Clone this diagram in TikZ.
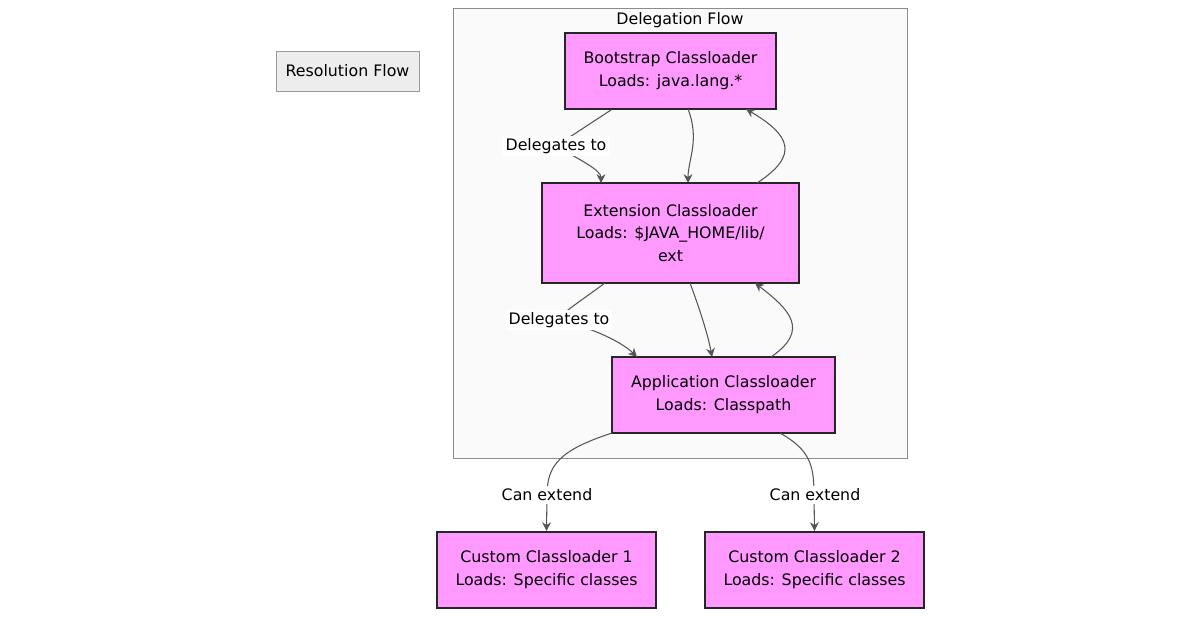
\documentclass[tikz,border=0pt]{standalone}
\usepackage{fontspec}
\setmainfont{DejaVu Sans}
\usetikzlibrary{positioning,arrows.meta}
\definecolor{boxfill}{HTML}{FF99FF}
\definecolor{clusterfill}{HTML}{FAFAFA}
\definecolor{edgegray}{HTML}{555555}
\begin{document}
\begin{tikzpicture}[x=0.02cm,y=-0.02cm,
  every node/.style={font=\fontsize{9}{13}\selectfont},
  loader/.style={draw=black!85,line width=1.1pt,fill=boxfill,align=center,inner sep=0pt},
  flow/.style={draw=edgegray,line width=0.6pt,-{Stealth[length=5pt,width=5pt]}},
  lbl/.style={fill=white,inner sep=1.5pt}]
\useasboundingbox (0,0) rectangle (1200,617);
% cluster
\draw[draw=black!45,fill=clusterfill] (453,8) rectangle (907,458);
\node (title) at (680,20) {Delegation Flow};
\node[draw=black!40,fill=black!7,minimum width=143*0.02cm,minimum height=40*0.02cm] (resolution) at (347.5,71) {Resolution Flow};
% loaders
\node[loader,minimum width=211*0.02cm,minimum height=76*0.02cm] (boot) at (670.5,71) {Bootstrap Classloader\\Loads: java.lang.*};
\node[loader,minimum width=257*0.02cm,minimum height=100*0.02cm] (ext) at (670.5,233) {Extension Classloader\\Loads: \$JAVA\_HOME/lib/\\ext};
\node[loader,minimum width=223*0.02cm,minimum height=76*0.02cm] (app) at (723.5,395) {Application Classloader\\Loads: Classpath};
\node[loader,minimum width=219*0.02cm,minimum height=76*0.02cm] (cust1) at (546.5,570) {Custom Classloader 1\\Loads: Specific classes};
\node[loader,minimum width=219*0.02cm,minimum height=76*0.02cm] (cust2) at (814.5,570) {Custom Classloader 2\\Loads: Specific classes};
% edges
\draw[flow] (boot.south west)++(47,0) .. controls +(0,0) and +(0,-0) .. (556,146) .. controls (580,160) and (601,170) .. (601,183);
\node[lbl] (d1) at (556,146) {Delegates to};
\draw[flow] (688,109) .. controls (700,140) and (688,160) .. (688,183);
\draw[flow] (757,183) .. controls (800,155) and (790,135) .. (746,109);
\draw[flow] (605,283) .. controls (575,305) and (559,315) .. (559,320) .. controls (600,330) and (625,345) .. (637,357);
\node[lbl] (d2) at (559,320) {Delegates to};
\draw[flow] (690,283) .. controls (700,310) and (708,335) .. (712,357);
\draw[flow] (771,357) .. controls (810,330) and (790,310) .. (755,283);
\draw[flow] (612,433) .. controls (560,450) and (547,465) .. (547,495) -- (cust1.north);
\node[lbl] (c1) at (547,495) {Can extend};
\draw[flow] (780,433) .. controls (810,450) and (814,465) .. (814,495) -- (cust2.north);
\node[lbl] (c2) at (815,495) {Can extend};
\end{tikzpicture}
\end{document}
